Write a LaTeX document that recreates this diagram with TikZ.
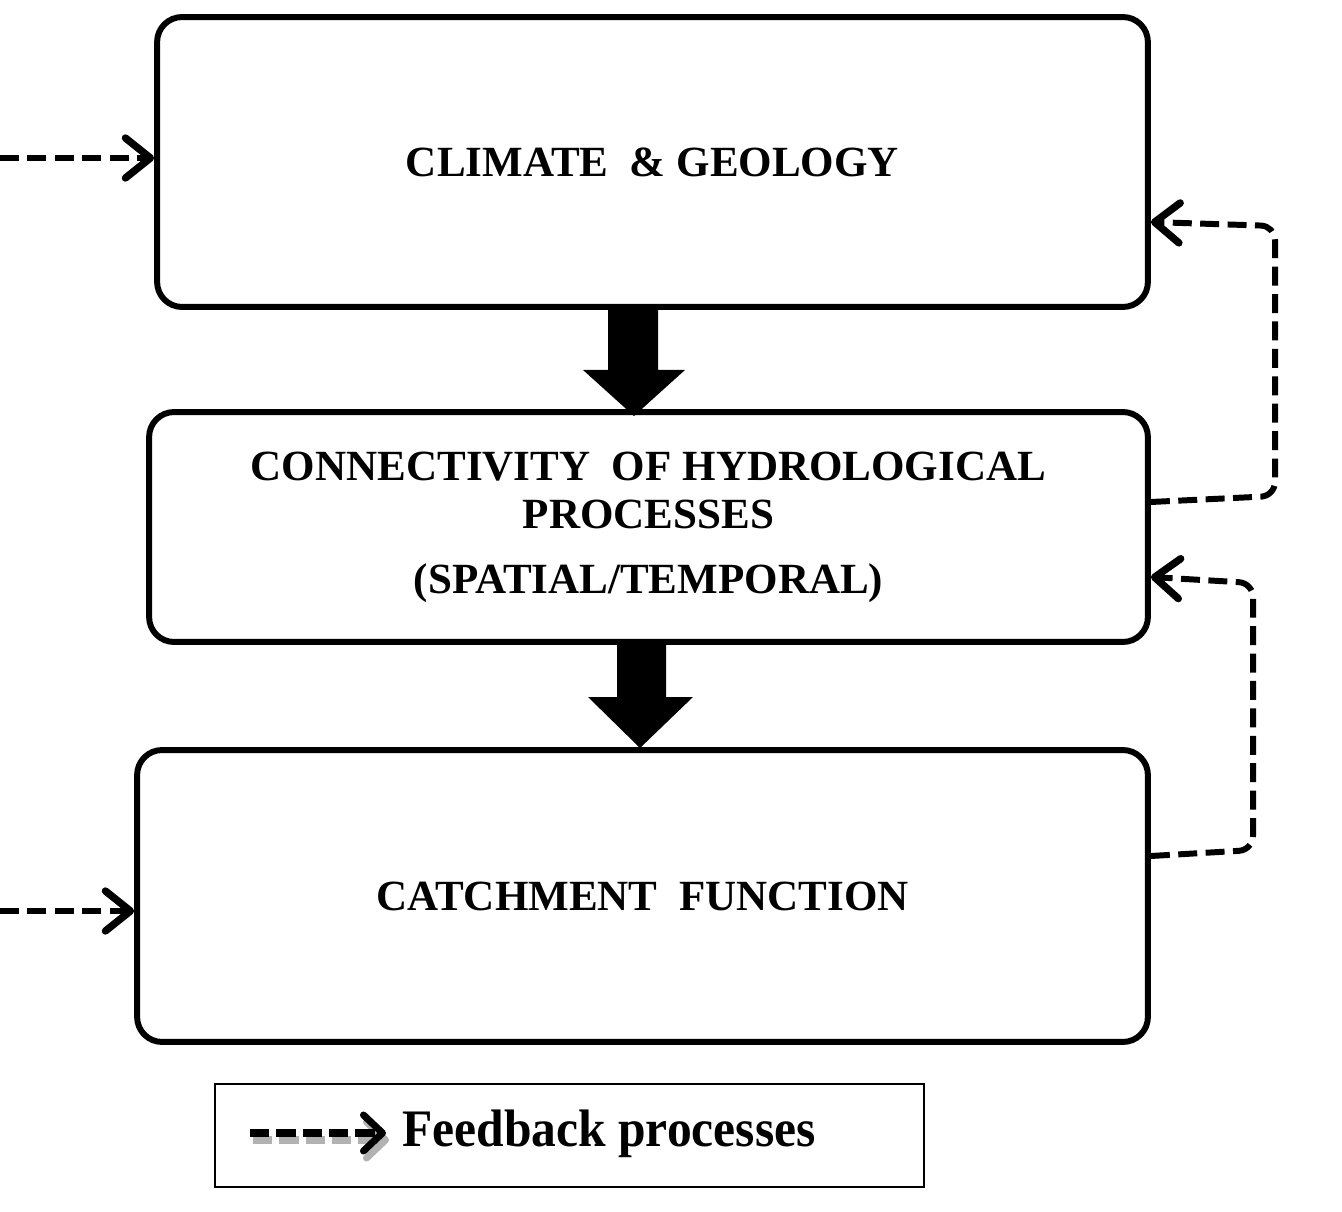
\documentclass[tikz,border=0pt]{standalone}
\usepackage{fontspec}
\usepackage{graphicx}
\setmainfont{Liberation Serif}
\usetikzlibrary{arrows.meta,calc}
\begin{document}
\begin{tikzpicture}[x=0.02cm,y=-0.02cm,
  box/.style={draw, line width=3.4pt, rounded corners=0.5cm, align=center,
    font=\fontsize{24.5pt}{27.3pt}\selectfont\bfseries},
  fb/.style={line width=3.4pt, dash pattern=on 10.8pt off 4.8pt,
    -{Straight Barb[length=0.5cm,width=0.8cm,line width=4.2pt,round]}},
  fblegend/.style={line width=4pt, dash pattern=on 11pt off 4pt,
    -{Straight Barb[length=0.38cm,width=0.72cm,line width=4pt,round]}},
  bigarrow/.style={fill=black}]
\useasboundingbox (0,0) rectangle (1342,1212);

% boxes
\node[box, minimum width=19.82cm, minimum height=5.8cm] (b1) at (652.5,162)
  {CLIMATE\ \ \& GEOLOGY};
\node[box, minimum width=19.98cm, minimum height=4.6cm] (b2) at (648.5,527)
  {CONNECTIVITY\ \ OF HYDROLOGICAL\\PROCESSES\\[9.7pt](SPATIAL/TEMPORAL)};
\node[box, minimum width=20.22cm, minimum height=5.84cm] (b3) at (642.5,896)
  {CATCHMENT\ \ FUNCTION};

% big downward arrows
\fill[bigarrow] (608,305) -- (658,305) -- (658,370) -- (685,370) -- (634,416)
  -- (583,370) -- (608,370) -- cycle;
\fill[bigarrow] (617,645) -- (666,645) -- (666,697) -- (693,697) -- (640,748)
  -- (588,697) -- (617,697) -- cycle;

% left feedback arrows
\coordinate (l1) at (0,158);
\coordinate (l2) at (0,911);
\draw[fb] (l1) -- (b1.west |- l1);
\draw[fb] (l2) -- (b3.west |- l2);

% right feedback loops
\draw[fb, rounded corners=8pt] (b2.east |- 0,502) -- (1275,496) -- (1275,226)
  -- (b1.east |- 0,222);
\draw[fb, rounded corners=8pt] (b3.east |- 0,856) -- (1253,850) -- (1253,583)
  -- (b2.east |- 0,577);

% legend
\node[draw, line width=0.8pt, minimum width=14.18cm, minimum height=2.06cm] (lg)
  at (569.5,1135.5) {};
\coordinate (s1) at (253,1140);
\coordinate (s2) at (389,1140);
\coordinate (k1) at (250,1133);
\coordinate (k2) at (386,1133);
\draw[fblegend, gray!60] (s1) -- (s2);
\draw[fblegend] (k1) -- (k2);
\node[anchor=base west, inner sep=0pt, font=\fontsize{30pt}{36pt}\selectfont\bfseries]
  (lt) at (402,1146) {\scalebox{0.94}[1]{Feedback processes}};
\end{tikzpicture}
\end{document}
